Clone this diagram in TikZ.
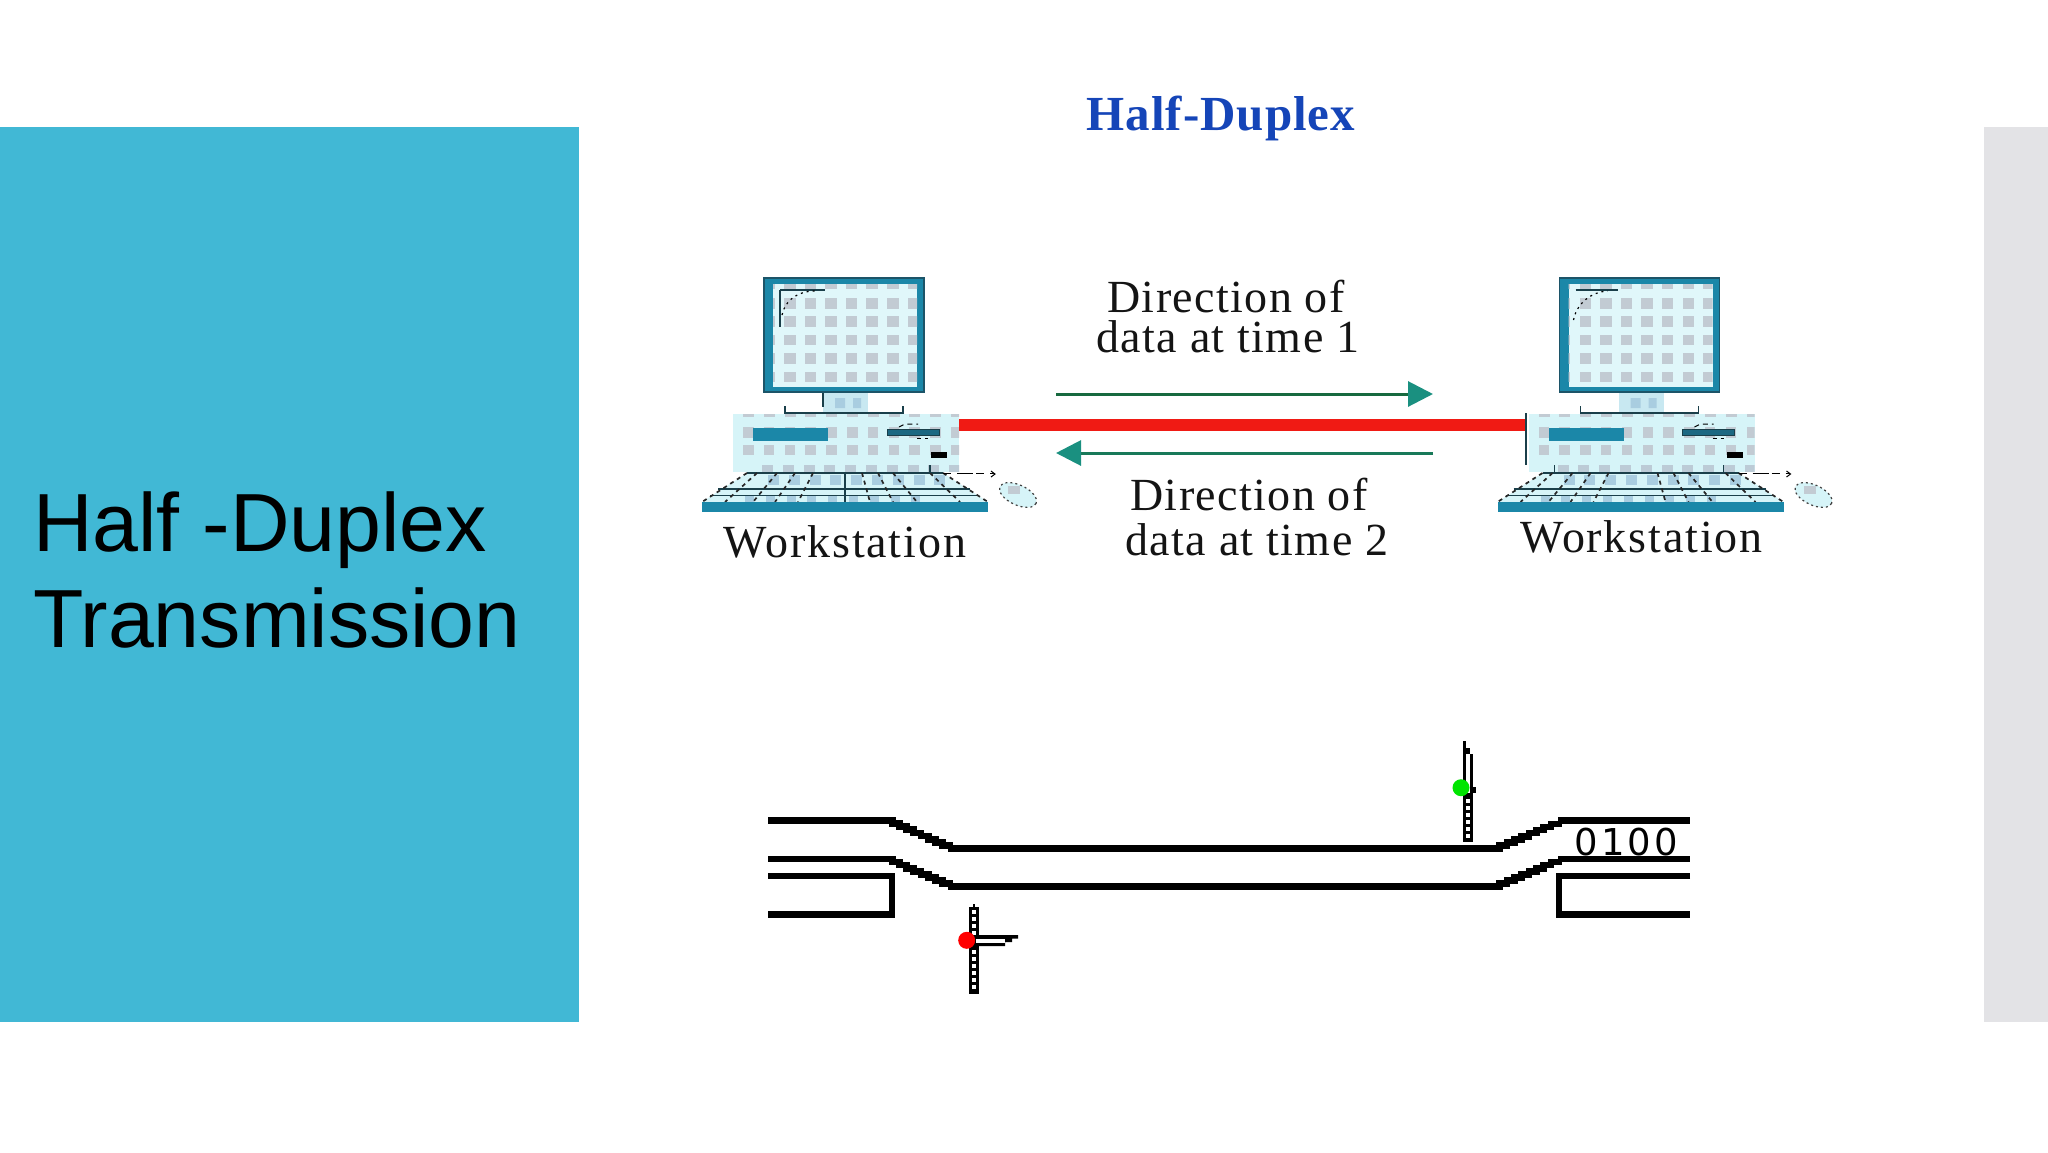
\documentclass[tikz,border=0pt]{standalone}
\usepackage{fontspec}
\setmainfont{Liberation Serif}
\newfontfamily\armfont{Liberation Sans}
\newfontfamily\bitfont{DejaVu Sans}
\usetikzlibrary{arrows.meta}
\definecolor{panelblue}{HTML}{41B8D5}
\definecolor{sidegrey}{HTML}{E3E3E6}
\definecolor{titleblue}{HTML}{1545B8}
\definecolor{frameteal}{HTML}{1B87A8}
\definecolor{framedark}{HTML}{1C5468}
\definecolor{pale}{HTML}{D6F4F8}
\definecolor{chk}{HTML}{C2CBD3}
\definecolor{chkb}{HTML}{A9CDE0}
\definecolor{linkred}{HTML}{F01A14}
\definecolor{arrowgreen}{HTML}{17693F}
\definecolor{headteal}{HTML}{1A9080}
\definecolor{inkdark}{HTML}{1A3F4A}
\tikzset{
  caption/.style={font=\fontsize{46}{46}\selectfont\addfontfeature{LetterSpace=3},anchor=base,inner sep=0pt,text=black!92},
  wslabel/.style={font=\fontsize{46}{46}\selectfont\addfontfeature{LetterSpace=4},anchor=base,inner sep=0pt,text=black!92},
  headline/.style={font=\fontsize{82.5}{82.5}\selectfont\armfont,anchor=base west,inner sep=0pt,text=black},
  track/.style={line width=6.6pt,line cap=butt,line join=miter,black},
  dirarrow/.style={line width=3pt,-{Triangle[length=25pt,width=25pt,color=headteal]}},
  inkline/.style={line width=1.6pt,inkdark},
  keydot/.style={line width=1.7pt,black!85,dash pattern=on 4pt off 4pt},
}
% staircase slope of the tracks: first point, run, rise
\newcommand{\stairs}[4]{%
  \foreach \i in {0,...,8}{%
    \fill[black] ({#1+\i*(#3)/9-4},{#2+\i*(#4)/9-3.3}) rectangle ({#1+\i*(#3)/9+10},{#2+\i*(#4)/9+3.3});
  }%
}
% one workstation, drawn in the coordinates of the left one
\newcommand{\workstation}{%
  % monitor
  \fill[frameteal] (764,278) rectangle (924,392);
  \draw[framedark,line width=1.5pt] (764,278) rectangle (924,392);
  \fill[pale!75!white] (773,283.5) rectangle (917,387);
  \begin{scope}
    \clip (773,283.5) rectangle (917,387);
    \foreach \c in {-1,...,6}{%
      \fill[chk] ({784+20.6*\c},284) rectangle ++(11.5,5);
      \foreach \r in {0,...,4}{%
        \fill[chk] ({784+20.6*\c},{298+18.4*\r}) rectangle ++(11.5,10.5);
      }
    }
  \end{scope}
  % stand
  \fill[pale!70!chkb] (823,393) rectangle (868,413);
  \fill[chkb] (835,398) rectangle ++(10,10) (853,398) rectangle ++(8,10);
  \draw[inkline] (785,406) -- (785,413) -- (903,413) -- (903,406);
  % case
  \fill[pale] (733,414) rectangle (959,472);
  \begin{scope}
    \clip (733,414) rectangle (959,472);
    \foreach \c in {0,...,10}{%
      \fill[chk] ({743+20.8*\c},414) rectangle ++(11,3);
      \fill[chk] ({743+20.8*\c},427) rectangle ++(10.5,10.5);
      \fill[chk] ({743+20.8*\c},445) rectangle ++(10.5,10);
      \fill[chk!75!chkb] ({762+20.8*\c},465) rectangle ++(11,7);
    }
  \end{scope}
  \fill[frameteal] (753,428) rectangle (828,441);
  \fill[framedark!60!frameteal] (887,429) rectangle (939,435);
  \draw[inkdark,line width=1pt] (887,429) rectangle (939,435);
  \fill[black] (931,452) rectangle (947,458);
  \draw[black,line width=1pt,dash pattern=on 5pt off 4pt] (899,427) -- (905,424) -- (918,424);
  \draw[black,line width=1pt,dash pattern=on 4pt off 4pt] (917,438) -- (928,438);
  % keyboard
  \fill[pale] (747,473) -- (943,473) -- (988,502) -- (702,502) -- cycle;
  \foreach \c in {0,...,8}{%
    \fill[chkb] ({768+20.8*\c},475) rectangle ++(11,10);
    \fill[chkb] ({745+20.8*\c},496) rectangle ++(9,6);
  }
  \draw[inkline] (747,473) -- (943,473);
  \draw[inkline] (718,489) -- (970,489);
  \draw[inkline] (710,495.5) -- (978,495.5);
  \foreach \a/\b in {757/725,777/753,795/775,813/798,862/870,878/893,893/917,930/960}{%
    \draw[keydot] (\a,473) -- (\b,502);
  }
  \draw[keydot] (747,473) -- (702,502);
  \draw[keydot] (943,473) -- (988,502);
  \fill[frameteal] (702,502) rectangle (988,512);
  % mouse and its cable
  \draw[black,line width=1pt,dash pattern=on 8pt off 6pt on 16pt off 3pt] (943,473) -- (994,473);
  \draw[black,line width=1pt] (991,471) -- (995,474) -- (991,477);
  \fill[pale] [rotate around={-25:(1018,495)}] (1018,495) ellipse [x radius=20,y radius=10];
  \draw[black!75,line width=1.2pt,dash pattern=on 2pt off 3pt] [rotate around={-25:(1018,495)}] (1018,495) ellipse [x radius=20,y radius=10];
  \fill[chk] (1008,486) rectangle ++(12,8);
}
\begin{document}
\begin{tikzpicture}[x=1pt,y=-1pt]
\useasboundingbox (0,0) rectangle (2048,1152);
\fill[white] (0,0) rectangle (2048,1152);
% slide panels
\fill[panelblue] (0,127) rectangle (579,1022);
\fill[sidegrey] (1984,127) rectangle (2048,1022);
\node[headline] (headA) at (33,551) {Half -Duplex};
\node[headline] (headB) at (33,647) {Transmission};
% title
\node[anchor=base,inner sep=0pt,text=titleblue,font=\fontsize{49}{49}\selectfont\bfseries\addfontfeature{LetterSpace=2}] (title) at (1221,130) {Half-Duplex};
% workstations
\workstation
\draw[inkdark,line width=1.5pt] (780,290) -- (825,290) (780,290) -- (780,327);
\draw[black,line width=1.2pt,dash pattern=on 2pt off 4pt] (782,315) .. controls (785,300) and (798,291) .. (815,291);
\draw[inkline] (823,393) -- (823,407);
\draw[inkline] (845,473) -- (845,502);
\draw[inkline] (930,465) -- (930,473);
\node[wslabel] (labL) at (845,557) {Workstation};
\begin{scope}[shift={(795.5,0)}]
\workstation
\draw[inkdark,line width=1.5pt] (780,290) -- (822,290);
\draw[black,line width=1.2pt,dash pattern=on 2pt off 4pt] (778,320) .. controls (781,304) and (795,292) .. (812,291);
\draw[inkline] (759,465) -- (759,473);
\draw[inkline] (928,465) -- (928,473);
\node[wslabel] (labR) at (846,552) {Workstation};
\end{scope}
% link
\coordinate (portL) at (959,425);
\coordinate (portR) at (1526,425);
\coordinate (tickT) at (1526,413);
\coordinate (tickB) at (1526,465);
\draw[linkred,line width=11.5pt] (portL) -- (portR);
\draw[inkdark,line width=1.8pt] (tickT) -- (tickB);
% direction arrows
\coordinate (a1s) at (1056,394);
\coordinate (a1e) at (1433,394);
\coordinate (a2s) at (1433,453);
\coordinate (a2e) at (1056,453);
\draw[dirarrow,arrowgreen] (a1s) -- (a1e);
\draw[dirarrow,arrowgreen!60!headteal] (a2s) -- (a2e);
\node[caption] (d1a) at (1226,312) {Direction of};
\node[caption] (d1b) at (1228,352) {data at time 1};
\node[caption] (d2a) at (1249,510) {Direction of};
\node[caption] (d2b) at (1257,555) {data at time 2};
% tracks
\draw[track] (768,820.3) -- (888,820.3);
\stairs{886}{820.3}{64}{28.4}
\draw[track] (948,848.7) -- (1496,848.7);
\stairs{1493}{848.7}{66}{-28}
\draw[track] (1558,820.7) -- (1690,820.7);
\draw[track] (768,859) -- (888,859);
\stairs{886}{859}{64}{27.7}
\draw[track] (948,886.7) -- (1496,886.7);
\stairs{1493}{886.7}{66}{-27.7}
\draw[track] (1558,859) -- (1690,859);
\draw[track] (768,876) -- (892,876) -- (892,914.3) -- (768,914.3);
\draw[track] (1690,876) -- (1559,876) -- (1559,914.3) -- (1690,914.3);
\node[anchor=base west,inner sep=0pt,font=\fontsize{37}{37}\selectfont\bitfont\addfontfeature{LetterSpace=9}] (bits) at (1574,855) {0100};
% lower signal
\fill[black] (969,907) rectangle (979,994);
\fill[black] (973,904) rectangle (975,907);
\foreach \y in {910,917,924,931,950,957,964,971,978,985}{\fill[white] (972,\y) rectangle ++(4,4);}
\fill[black] (976,935) -- (1018,935) -- (1018,938.5) -- (1012,938.5) -- (1012,942) -- (1005,942) -- (1005,946) -- (976,946) -- cycle;
\fill[white] (976,939) rectangle (1005,943);
\fill[red] (966.7,940.3) circle [radius=8.5];
% upper signal
\fill[black] (1463,793) rectangle (1473,842);
\foreach \y in {799,806,813,820,827,834}{\fill[white] (1466,\y) rectangle ++(4,4);}
\fill[black] (1463,741) rectangle (1466,793);
\fill[black] (1466,748) rectangle (1470,754);
\fill[black] (1470,754) rectangle (1473,793);
\fill[black] (1473,787) rectangle (1476,793);
\fill[white] (1466,754) rectangle (1470,790);
\fill[green!90!black] (1461,787.7) circle [radius=8.5];
\end{tikzpicture}
\end{document}
